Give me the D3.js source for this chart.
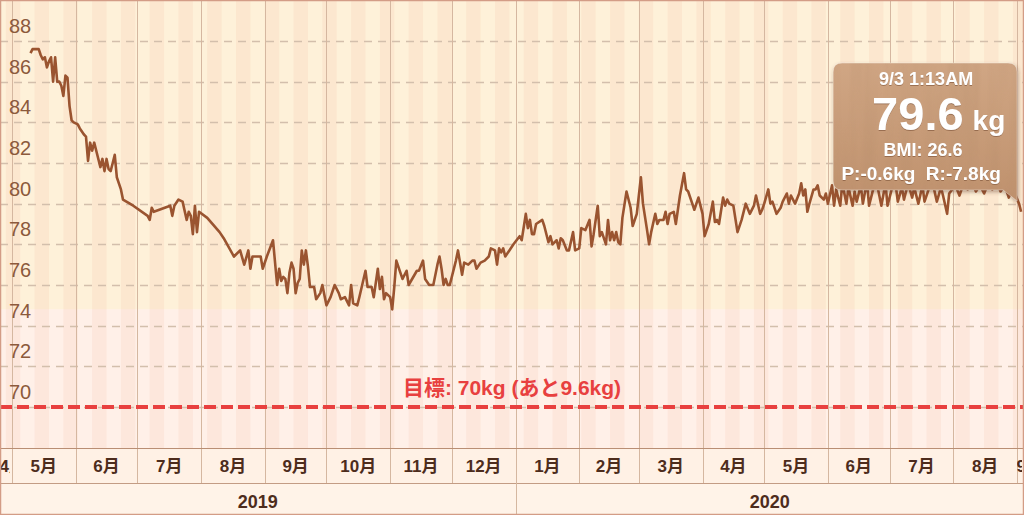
<!DOCTYPE html>
<html>
<head>
<meta charset="utf-8">
<script src="https://cdn.jsdelivr.net/npm/d3@7"></script>
<style>
body { margin: 0; background: #fff2e7; }
svg { display: block; }
</style>
</head>
<body>
<script>
var width = 1024,
    height = 515;

// measurements (date, kg)
var dates = [
  "2019-05-10","2019-05-11","2019-05-14","2019-05-15","2019-05-16","2019-05-17","2019-05-18","2019-05-19","2019-05-20","2019-05-21",
  "2019-05-22","2019-05-23","2019-05-24","2019-05-25","2019-05-26","2019-05-27","2019-05-28","2019-05-29","2019-05-30","2019-05-31",
  "2019-06-02","2019-06-03","2019-06-05","2019-06-06","2019-06-07","2019-06-08","2019-06-09","2019-06-10","2019-06-11","2019-06-13",
  "2019-06-14","2019-06-15","2019-06-16","2019-06-17","2019-06-18","2019-06-19","2019-06-20","2019-06-21","2019-06-23","2019-06-24",
  "2019-06-29","2019-07-06","2019-07-07","2019-07-08","2019-07-09","2019-07-17","2019-07-18","2019-07-19","2019-07-21","2019-07-23",
  "2019-07-25","2019-07-26","2019-07-27","2019-07-28","2019-07-29","2019-07-30","2019-07-31","2019-08-04","2019-08-10","2019-08-12",
  "2019-08-17","2019-08-20","2019-08-22","2019-08-24","2019-08-25","2019-08-26","2019-08-29","2019-08-30","2019-08-31","2019-09-02",
  "2019-09-05","2019-09-07","2019-09-08","2019-09-09","2019-09-10","2019-09-11","2019-09-12","2019-09-13","2019-09-14","2019-09-15",
  "2019-09-16","2019-09-17","2019-09-18","2019-09-19","2019-09-20","2019-09-21","2019-09-22","2019-09-23","2019-09-25","2019-09-26",
  "2019-09-28","2019-09-29","2019-10-01","2019-10-03","2019-10-05","2019-10-07","2019-10-08","2019-10-10","2019-10-12","2019-10-13",
  "2019-10-14","2019-10-16","2019-10-17","2019-10-20","2019-10-21","2019-10-23","2019-10-24","2019-10-26","2019-10-27","2019-10-28",
  "2019-10-29","2019-10-30","2019-11-01","2019-11-02","2019-11-03","2019-11-04","2019-11-06","2019-11-07","2019-11-09","2019-11-10",
  "2019-11-14","2019-11-15","2019-11-17","2019-11-18","2019-11-20","2019-11-22","2019-11-24","2019-11-25","2019-11-26","2019-11-27",
  "2019-11-28","2019-11-29","2019-11-30","2019-12-03","2019-12-04","2019-12-06","2019-12-07","2019-12-09","2019-12-11","2019-12-12",
  "2019-12-13","2019-12-15","2019-12-17","2019-12-19","2019-12-20","2019-12-22","2019-12-23","2019-12-24","2019-12-25","2019-12-26",
  "2019-12-27","2019-12-29","2019-12-31","2020-01-03","2020-01-04","2020-01-06","2020-01-07","2020-01-08","2020-01-09","2020-01-10",
  "2020-01-11","2020-01-14","2020-01-15","2020-01-17","2020-01-18","2020-01-19","2020-01-21","2020-01-22","2020-01-23","2020-01-24",
  "2020-01-26","2020-01-27","2020-01-29","2020-01-30","2020-02-01","2020-02-02","2020-02-04","2020-02-06","2020-02-07","2020-02-08",
  "2020-02-10","2020-02-11","2020-02-12","2020-02-14","2020-02-15","2020-02-16","2020-02-17","2020-02-18","2020-02-19","2020-02-20",
  "2020-02-21","2020-02-22","2020-02-24","2020-02-26","2020-02-27","2020-02-29","2020-03-02","2020-03-03","2020-03-05","2020-03-06",
  "2020-03-07","2020-03-09","2020-03-10","2020-03-11","2020-03-13","2020-03-14","2020-03-15","2020-03-16","2020-03-18","2020-03-19",
  "2020-03-21","2020-03-23","2020-03-24","2020-03-25","2020-03-27","2020-03-28","2020-03-30","2020-04-01","2020-04-02","2020-04-04",
  "2020-04-06","2020-04-07","2020-04-08","2020-04-09","2020-04-11","2020-04-12","2020-04-13","2020-04-14","2020-04-16","2020-04-18",
  "2020-04-20","2020-04-22","2020-04-24","2020-04-26","2020-04-27","2020-04-29","2020-04-30","2020-05-01","2020-05-03","2020-05-04",
  "2020-05-05","2020-05-07","2020-05-09","2020-05-10","2020-05-12","2020-05-13","2020-05-14","2020-05-16","2020-05-18","2020-05-19",
  "2020-05-20","2020-05-21","2020-05-22","2020-05-23","2020-05-25","2020-05-26","2020-05-27","2020-05-28","2020-05-30","2020-05-31",
  "2020-06-01","2020-06-03","2020-06-04","2020-06-05","2020-06-07","2020-06-08","2020-06-10","2020-06-11","2020-06-13","2020-06-14",
  "2020-06-15","2020-06-17","2020-06-18","2020-06-20","2020-06-21","2020-06-23","2020-06-25","2020-06-27","2020-06-29","2020-06-30",
  "2020-07-02","2020-07-04","2020-07-05","2020-07-07","2020-07-08","2020-07-10","2020-07-12","2020-07-13","2020-07-15","2020-07-17",
  "2020-07-18","2020-07-20","2020-07-22","2020-07-24","2020-07-26","2020-07-27","2020-07-29","2020-07-30","2020-08-02","2020-08-04",
  "2020-08-06","2020-08-08","2020-08-10","2020-08-12","2020-08-14","2020-08-16","2020-08-18","2020-08-20","2020-08-22","2020-08-24",
  "2020-08-26","2020-08-28","2020-08-30","2020-08-31","2020-09-02","2020-09-03"
]
var weights = [
  87.4,87.6,87.6,87.3,87.1,87.2,86.7,87.0,87.2,86.0,
  87.2,86.0,86.0,85.8,85.3,86.3,86.2,84.8,84.1,84.0,
  83.9,83.7,83.4,83.3,82.1,83.0,82.6,83.0,82.6,81.8,
  82.2,81.6,82.2,81.7,81.6,82.0,82.4,81.3,80.7,80.2,
  79.9,79.4,79.2,79.8,79.6,79.9,79.4,79.9,80.2,80.1,
  79.2,79.6,79.4,78.5,79.9,78.6,79.6,79.3,78.6,78.3,
  77.4,77.7,77.0,77.7,76.8,77.4,77.4,77.4,76.8,77.4,
  78.2,76.0,76.8,76.2,76.4,76.3,75.6,76.6,77.1,76.8,
  75.6,76.1,76.3,77.7,77.0,77.7,76.9,75.9,75.9,75.3,
  75.6,76.0,75.0,75.4,76.0,75.6,75.3,75.4,75.0,76.0,
  75.1,75.0,75.4,76.7,75.9,75.9,75.4,76.8,75.8,76.4,
  75.3,75.6,75.4,74.8,75.9,77.2,76.6,76.3,76.7,76.0,
  76.7,76.7,77.2,76.3,76.0,76.0,77.0,77.4,76.8,76.0,
  76.3,76.0,76.0,77.2,77.7,76.5,77.1,77.0,77.2,77.2,
  76.8,77.1,77.2,77.4,77.8,77.7,77.0,77.8,77.6,77.8,
  77.4,77.7,78.0,78.4,78.2,79.5,78.8,79.2,78.5,78.5,
  79.0,79.2,78.9,78.1,78.4,78.0,78.2,77.8,78.3,78.2,
  77.7,77.7,78.6,77.7,77.8,78.8,78.7,79.2,77.9,78.5,
  79.9,78.4,78.6,78.0,79.2,78.2,78.6,78.2,78.6,78.1,
  78.0,79.3,80.6,79.8,78.9,79.5,81.3,80.0,78.7,78.0,
  78.6,79.5,79.0,79.2,79.2,79.6,79.0,79.5,79.6,79.0,
  80.4,81.5,80.7,80.6,80.0,79.7,80.3,79.5,78.4,79.0,
  80.1,79.1,79.2,79.0,80.3,79.9,80.2,80.0,79.9,78.6,
  79.2,80.0,79.5,79.9,80.4,79.5,79.7,80.0,80.7,80.0,
  80.1,79.5,79.8,80.1,80.5,80.0,80.4,80.0,80.5,81.0,
  80.4,80.7,79.6,80.0,80.7,80.7,80.9,80.4,80.2,80.5,
  80.0,80.9,79.9,80.7,79.9,81.0,80.0,80.8,79.9,80.6,
  80.1,80.9,80.0,81.1,79.9,80.7,80.9,79.9,81.0,79.9,
  80.7,80.9,80.1,80.8,80.2,81.0,80.3,80.8,80.0,80.9,
  80.1,80.7,81.0,80.1,80.8,80.4,79.5,80.5,80.9,80.4,
  81.0,80.7,81.1,80.6,80.9,80.5,81.0,80.7,81.1,80.6,
  80.9,80.3,80.8,80.5,80.0,79.6
]

var yTicks = [70, 72, 74, 76, 78, 80, 82, 84, 86, 88]
var monthLabels = ["4月","5月","6月","7月","8月","9月","10月","11月","12月",
                   "1月","2月","3月","4月","5月","6月","7月","8月","9月"]
var yearLabels = ["2019", "2020"]
var goal = 70
var bmi25 = 74.8          // weight at BMI 25
var goalText = "目標: 70kg (あと9.6kg)"
var tipDate = "9/3 1:13AM",
    tipWeight = "79.6",
    tipBmi = "BMI: 26.6",
    tipDiff = "P:-0.6kg  R:-7.8kg"

var parse = d3.timeParse("%Y-%m-%d")
var data = dates.map(function (d, i) { return {date: parse(d), weight: weights[i]} })

var plotBottom = 448,
    monthBottom = 483

var x = d3.scaleTime()
    .domain([new Date(2019, 4, 1), new Date(2020, 8, 1)])
    .range([12, 1017])
var y = d3.scaleLinear()
    .domain([70, 88])
    .range([407, 41])

var svg = d3.select("body").append("svg")
    .attr("width", width)
    .attr("height", height)
var defs = svg.append("defs")

var latin = "'Liberation Sans', Arial, 'Noto Sans CJK JP', sans-serif"

// background zones
svg.append("rect").attr("width", width).attr("height", height).attr("fill", "#fff2e7")
svg.append("rect")
    .attr("x", 0).attr("y", 0)
    .attr("width", width).attr("height", y(bmi25))
    .attr("fill", "#fef1d9")
svg.append("rect")
    .attr("x", 0).attr("y", y(bmi25))
    .attr("width", width).attr("height", plotBottom - y(bmi25))
    .attr("fill", "#fff0e8")

// every other week shaded
var visStart = x.invert(0), visEnd = x.invert(width)
var weeks = d3.timeSunday.range(d3.timeSunday.floor(visStart), visEnd)
weeks.forEach(function (w, i) {
    if (i % 2 == 0) return
    svg.append("rect")
        .attr("x", x(w))
        .attr("y", 0)
        .attr("width", x(d3.timeSunday.offset(w, 1)) - x(w))
        .attr("height", plotBottom)
        .attr("fill", "rgb(242,167,137)")
        .attr("fill-opacity", 0.13)
})

// horizontal grid
svg.selectAll(".grid").data(yTicks).enter().append("line")
    .attr("class", "grid")
    .attr("x1", 0).attr("x2", width)
    .attr("y1", function (d) { return Math.round(y(d)) + 0.5 })
    .attr("y2", function (d) { return Math.round(y(d)) + 0.5 })
    .attr("stroke", "#d3bfac")
    .attr("stroke-width", 1.3)
    .attr("stroke-dasharray", "8,6")

// axis rows
svg.append("rect").attr("x", 0).attr("y", plotBottom).attr("width", width)
    .attr("height", monthBottom - plotBottom).attr("fill", "#fff1e5")
svg.append("rect").attr("x", 0).attr("y", monthBottom).attr("width", width)
    .attr("height", height - monthBottom).attr("fill", "#fff3e8")

var months = d3.timeMonth.range(new Date(2019, 3, 1), new Date(2020, 9, 1))

// month dividers
months.forEach(function (m) {
    var xm = x(m)
    if (xm <= 0 || xm >= width) return
    svg.append("line")
        .attr("x1", Math.round(xm) + 0.5).attr("x2", Math.round(xm) + 0.5)
        .attr("y1", 0).attr("y2", monthBottom)
        .attr("stroke", "#d5b7a0")
        .attr("stroke-width", 1)
})

svg.append("line").attr("x1", 0).attr("x2", width)
    .attr("y1", plotBottom + 0.5).attr("y2", plotBottom + 0.5)
    .attr("stroke", "#b98e74").attr("stroke-width", 1)
svg.append("line").attr("x1", 0).attr("x2", width)
    .attr("y1", monthBottom + 0.5).attr("y2", monthBottom + 0.5)
    .attr("stroke", "#c39c84").attr("stroke-width", 1)

// month labels, clipped to their cell
months.forEach(function (m, i) {
    var a = Math.max(0, x(m)),
        b = Math.min(width, x(d3.timeMonth.offset(m, 1)))
    if (b <= a) return
    var id = "mclip" + i
    defs.append("clipPath").attr("id", id).append("rect")
        .attr("x", a).attr("y", plotBottom).attr("width", Math.max(0, b - a - 2)).attr("height", monthBottom - plotBottom)
    var t = svg.append("text")
        .attr("clip-path", "url(#" + id + ")")
        .attr("y", 472)
        .attr("font-family", latin)
        .attr("font-weight", "bold")
        .attr("font-size", 17)
        .attr("fill", "#4d2c1c")
        .text(monthLabels[i])
    if (b - a > 40) t.attr("x", (a + b) / 2).attr("text-anchor", "middle")
    else t.attr("x", a - 0.5).attr("text-anchor", "start")
})

// year row
yearLabels.forEach(function (yr) {
    var y0 = new Date(+yr, 0, 1), y1 = new Date(+yr + 1, 0, 1)
    var a = Math.max(0, x(y0)), b = Math.min(width, x(y1))
    if (x(y0) > 0) {
        svg.append("line")
            .attr("x1", Math.round(x(y0)) + 0.5).attr("x2", Math.round(x(y0)) + 0.5)
            .attr("y1", monthBottom).attr("y2", height)
            .attr("stroke", "#d5b7a0")
    }
    svg.append("text")
        .attr("x", (a + b) / 2).attr("y", 508)
        .attr("text-anchor", "middle")
        .attr("font-family", latin)
        .attr("font-weight", "bold")
        .attr("font-size", 18)
        .attr("fill", "#4d2c1c")
        .text(yr)
})

// y labels
svg.selectAll(".ylab").data(yTicks).enter().append("text")
    .attr("class", "ylab")
    .attr("x", 9)
    .attr("y", function (d) { return y(d) - 8 })
    .attr("font-family", latin)
    .attr("font-size", 20)
    .attr("fill", "#8c5a3c")
    .text(function (d) { return d })

// goal line
svg.append("line")
    .attr("x1", 0).attr("x2", width)
    .attr("y1", y(goal)).attr("y2", y(goal))
    .attr("stroke", "#e8403f")
    .attr("stroke-width", 4)
    .attr("stroke-dasharray", "12,5")
svg.append("text")
    .attr("x", 512).attr("y", y(goal) - 12)
    .attr("text-anchor", "middle")
    .attr("font-family", latin)
    .attr("font-weight", "bold")
    .attr("font-size", 21)
    .attr("fill", "#e8403f")
    .text(goalText)

// weight line
var line = d3.line()
    .x(function (d) { return x(d.date) })
    .y(function (d) { return y(d.weight) })
svg.append("path")
    .datum(data)
    .attr("fill", "none")
    .attr("stroke", "#9a5430")
    .attr("stroke-width", 2.6)
    .attr("stroke-linejoin", "round")
    .attr("d", line)

// tooltip (wood panel)
var last = data[data.length - 1]
var bx1 = x(last.date) - 4, bw = 184, bx = bx1 - bw, by = 63, bh = 127, r = 9
var tipPath = "M" + (bx + r) + "," + by +
    " H" + (bx1 - r) + " Q" + bx1 + "," + by + " " + bx1 + "," + (by + r) +
    " V" + (by + bh + 11) + " L" + (bx1 - 14) + "," + (by + bh) +
    " H" + (bx + r) + " Q" + bx + "," + (by + bh) + " " + bx + "," + (by + bh - r) +
    " V" + (by + r) + " Q" + bx + "," + by + " " + (bx + r) + "," + by + " Z"

var shadow = defs.append("filter").attr("id", "shadow")
    .attr("x", "-10%").attr("y", "-10%").attr("width", "130%").attr("height", "130%")
shadow.append("feDropShadow").attr("dx", 1).attr("dy", 2).attr("stdDeviation", 2)
    .attr("flood-color", "#5a3420").attr("flood-opacity", 0.45)

var wood = defs.append("linearGradient").attr("id", "wood")
    .attr("x1", 0).attr("y1", 0).attr("x2", 0).attr("y2", 1)
wood.append("stop").attr("offset", "0%").attr("stop-color", "#d0a684")
wood.append("stop").attr("offset", "100%").attr("stop-color", "#bf916d")

var grain = defs.append("filter").attr("id", "grain")
    .attr("x", 0).attr("y", 0).attr("width", "100%").attr("height", "100%")
grain.append("feTurbulence").attr("type", "fractalNoise")
    .attr("baseFrequency", "0.08 0.006").attr("numOctaves", 2).attr("seed", 4)
grain.append("feColorMatrix").attr("type", "matrix")
    .attr("values", "0 0 0 0 0.45  0 0 0 0 0.26  0 0 0 0 0.14  0.8 0 0 0 -0.3")
grain.append("feComposite").attr("in2", "SourceGraphic").attr("operator", "in")

var tip = svg.append("g")
tip.append("path").attr("d", tipPath).attr("fill", "url(#wood)").attr("filter", "url(#shadow)")
tip.append("path").attr("d", tipPath).attr("fill", "#fff").attr("filter", "url(#grain)").attr("opacity", 0.6)
tip.append("path").attr("d", tipPath).attr("fill", "none")
    .attr("stroke", "rgba(255,255,255,0.35)").attr("stroke-width", 1)

var txt = defs.append("filter").attr("id", "txtshadow")
txt.append("feDropShadow").attr("dx", 0).attr("dy", 1).attr("stdDeviation", 0.6)
    .attr("flood-color", "#6b4226").attr("flood-opacity", 0.5)

var cx = bx + bw / 2
tip.append("text").attr("x", cx + 1).attr("y", by + 22)
    .attr("text-anchor", "middle").attr("font-family", latin).attr("font-weight", "bold")
    .attr("font-size", 18).attr("fill", "#fff").attr("filter", "url(#txtshadow)")
    .text(tipDate)
var big = tip.append("text").attr("x", bx + 39).attr("y", by + 67)
    .attr("font-family", latin).attr("font-weight", "bold")
    .attr("fill", "#fff").attr("filter", "url(#txtshadow)")
big.append("tspan").attr("font-size", 47).text(tipWeight)
big.append("tspan").attr("font-size", 28).attr("dx", 9).text("kg")
tip.append("text").attr("x", cx - 2).attr("y", by + 93)
    .attr("text-anchor", "middle").attr("font-family", latin).attr("font-weight", "bold")
    .attr("font-size", 18).attr("fill", "#fff").attr("filter", "url(#txtshadow)")
    .text(tipBmi)
tip.append("text").attr("x", cx - 4).attr("y", by + 117)
    .attr("text-anchor", "middle").attr("font-family", latin).attr("font-weight", "bold")
    .attr("font-size", 19).attr("fill", "#fff").attr("filter", "url(#txtshadow)")
    .attr("xml:space", "preserve").style("white-space", "pre")
    .text(tipDiff)

// frame
svg.append("rect")
    .attr("x", 0.5).attr("y", 0.5)
    .attr("width", width - 1).attr("height", height - 1)
    .attr("fill", "none")
    .attr("stroke", "#d39c86")
    .attr("stroke-width", 1.5)
</script>
</body>
</html>
